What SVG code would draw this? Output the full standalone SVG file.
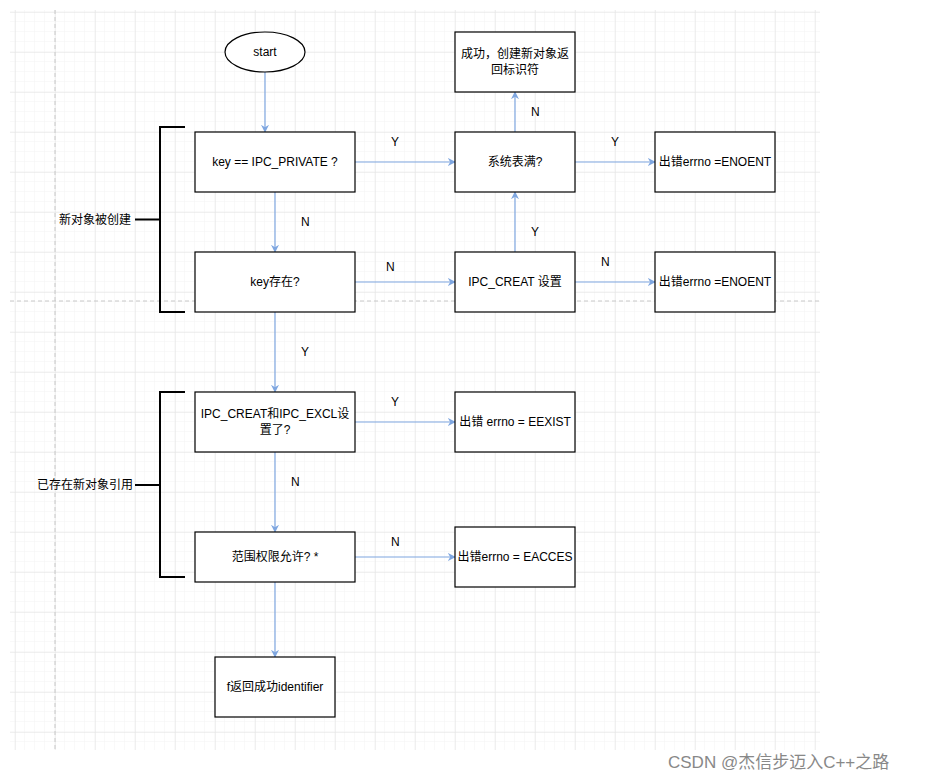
<svg xmlns="http://www.w3.org/2000/svg" width="930" height="781" viewBox="0 0 930 781">
<defs>
<pattern id="minor" x="5" y="2" width="10" height="10" patternUnits="userSpaceOnUse"><path d="M10 0V10M0 10H10" fill="none" stroke="#f3f3f3" stroke-width="1"/></pattern>
<pattern id="major" x="15" y="12" width="40" height="40" patternUnits="userSpaceOnUse"><path d="M0 0V40M0 0H40" fill="none" stroke="#e2e2e2" stroke-width="1"/></pattern>
<marker id="ar" viewBox="0 0 10 10" refX="9" refY="5" markerWidth="8" markerHeight="8" markerUnits="userSpaceOnUse" orient="auto"><path d="M0 0L10 5L0 10L3 5Z" fill="#7ea6e0"/></marker>
</defs>
<style>
.b{fill:#fff;stroke:#000;stroke-width:1.2}
.t{font-family:"Liberation Sans","Noto Sans CJK SC",sans-serif;font-size:12px;text-anchor:middle;fill:#000}
.l{font-family:"Liberation Sans","Noto Sans CJK SC",sans-serif;font-size:12px;fill:#000}
.e{fill:none;stroke:#7ea6e0;stroke-width:1.2;marker-end:url(#ar)}
.br{fill:none;stroke:#000;stroke-width:2}
</style>
<rect width="930" height="781" fill="#fff"/>
<rect x="10" y="10" width="810" height="740" fill="url(#minor)"/>
<rect x="10" y="10" width="810" height="740" fill="url(#major)"/>
<path d="M55 10V750M10 301H820" stroke="#c8c8c8" stroke-dasharray="4 3" fill="none"/>
<g id="connectors">
<path class="e" d="M265 72V132"/>
<path class="e" d="M275 192V252"/>
<path class="e" d="M275 312V392"/>
<path class="e" d="M275 452V532"/>
<path class="e" d="M275 582V657"/>
<path class="e" d="M355 162H455"/>
<path class="e" d="M355 282H455"/>
<path class="e" d="M515 252V192"/>
<path class="e" d="M515 132V92"/>
<path class="e" d="M575 162H655"/>
<path class="e" d="M575 282H655"/>
<path class="e" d="M355 422H455"/>
<path class="e" d="M355 557H455"/>
<text class="l" x="391" y="146">Y</text>
<text class="l" x="301" y="226">N</text>
<text class="l" x="386" y="271">N</text>
<text class="l" x="531" y="236">Y</text>
<text class="l" x="531" y="116">N</text>
<text class="l" x="611" y="146">Y</text>
<text class="l" x="601" y="266">N</text>
<text class="l" x="301" y="356">Y</text>
<text class="l" x="391" y="406">Y</text>
<text class="l" x="291" y="486">N</text>
<text class="l" x="391" y="546">N</text>
</g>
<g id="start"><ellipse class="b" cx="265" cy="52" rx="40" ry="20"/><text class="t" x="265" y="56">start</text></g>
<g id="n1"><rect class="b" x="195" y="132" width="160" height="60"/><text class="t" x="275" y="166">key == IPC_PRIVATE ?</text></g>
<g id="n2"><rect class="b" x="195" y="252" width="160" height="60"/><text class="t" x="275" y="286">key存在?</text></g>
<g id="n3"><rect class="b" x="195" y="392" width="160" height="60"/><text class="t" x="275" y="418">IPC_CREAT和IPC_EXCL设</text><text class="t" x="275" y="434">置了?</text></g>
<g id="n4"><rect class="b" x="195" y="532" width="160" height="50"/><text class="t" x="275" y="561">范围权限允许? *</text></g>
<g id="n5"><rect class="b" x="215" y="657" width="120" height="60"/><text class="t" x="275" y="691">f返回成功identifier</text></g>
<g id="n6"><rect class="b" x="455" y="32" width="120" height="60"/><text class="t" x="515" y="58">成功，创建新对象返</text><text class="t" x="515" y="74">回标识符</text></g>
<g id="n7"><rect class="b" x="455" y="132" width="120" height="60"/><text class="t" x="515" y="166">系统表满?</text></g>
<g id="n8"><rect class="b" x="455" y="252" width="120" height="60"/><text class="t" x="515" y="286">IPC_CREAT 设置</text></g>
<g id="n9"><rect class="b" x="655" y="132" width="120" height="60"/><text class="t" x="715" y="166">出错errno =ENOENT</text></g>
<g id="n10"><rect class="b" x="655" y="252" width="120" height="60"/><text class="t" x="715" y="286">出错errno =ENOENT</text></g>
<g id="n11"><rect class="b" x="455" y="392" width="120" height="60"/><text class="t" x="515" y="426">出错 errno = EEXIST</text></g>
<g id="n12"><rect class="b" x="455" y="527" width="120" height="60"/><text class="t" x="515" y="561">出错errno = EACCES</text></g>
<g id="bracket1"><path class="br" d="M185 127H160V312H185M160 219.5H135"/><text class="l" x="131" y="224" text-anchor="end">新对象被创建</text></g>
<g id="bracket2"><path class="br" d="M185 392H160V577H185M160 485H135"/><text class="l" x="133" y="489" text-anchor="end">已存在新对象引用</text></g>
<text class="l" x="668" y="768" style="font-size:17px;fill:#888">CSDN @杰信步迈入C++之路</text>
</svg>
